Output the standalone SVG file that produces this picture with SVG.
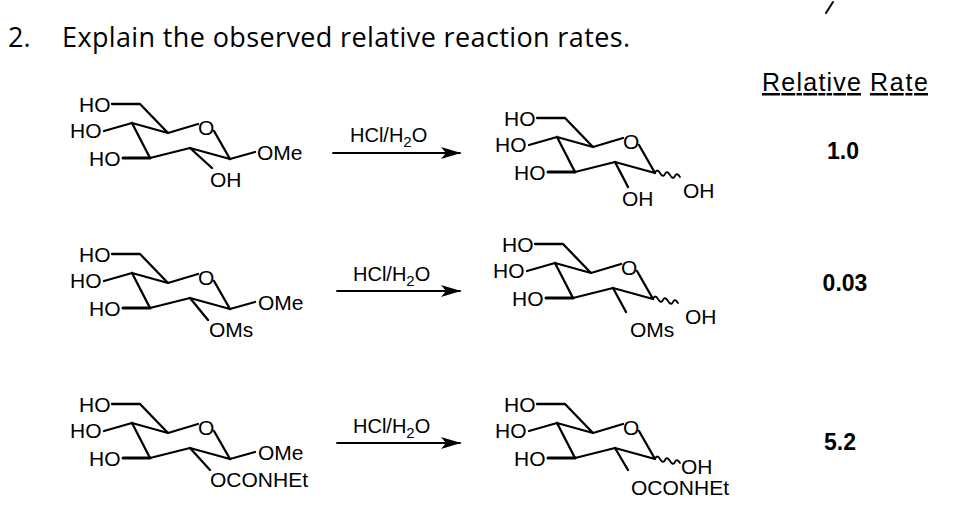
<svg xmlns="http://www.w3.org/2000/svg" xmlns:xlink="http://www.w3.org/1999/xlink" width="976" height="512" viewBox="0 0 976 512">
<style>
text{font-family:"Liberation Sans",Arial,sans-serif;fill:#000}
.b{stroke:#000;stroke-width:2.3;fill:none;stroke-linecap:round;stroke-linejoin:round}
.t{font-size:21px}
.r{font-size:20px}
.rate{font-size:23px;font-weight:bold}
</style>
<defs>
<marker id="ah" viewBox="0 0 20 12" refX="19" refY="6" markerWidth="20" markerHeight="12" markerUnits="userSpaceOnUse" orient="auto">
<path d="M0,0 L20,6 L0,12 L5,6 Z" fill="#000"/>
</marker>
<g id="ring">
<path class="b" d="M112,104 H140 L168,133 M132,123 L168,133 L198,124 M214,131 L230,159 M132,123 L150,158 L190,148 L230,159 M104,131 L132,123"/>
<path class="b" style="stroke-width:3" d="M123,158 H150"/>
<text class="t" x="79" y="112">HO</text>
<text class="t" x="70" y="138">HO</text>
<text class="t" x="89" y="166">HO</text>
<text class="t" x="198" y="135">O</text>
</g>
</defs>
<text x="8" y="47" style="font-size:27px;font-family:'Open Sans','Liberation Sans',sans-serif">2.</text>
<text x="62" y="47" textLength="568" style="font-size:27px;font-family:'Open Sans','Liberation Sans',sans-serif">Explain the observed relative reaction rates.</text>
<path class="b" d="M833,2 L826,13" style="stroke-width:2"/>
<g id="reactant1">
<use xlink:href="#ring" href="#ring"/>
<path class="b" d="M230,159 L255,152 M190,148 L212,168"/>
<text class="t" x="257" y="160">OMe</text>
<text class="t" x="210" y="187">OH</text>
</g>
<g id="reactant2" transform="translate(0,150)">
<use xlink:href="#ring" href="#ring"/>
<path class="b" d="M230,159 L255,152 M190,148 L208,170"/>
<text class="t" x="258" y="160">OMe</text>
<text class="t" x="209" y="187">OMs</text>
</g>
<g id="reactant3" transform="translate(0,300)">
<use xlink:href="#ring" href="#ring"/>
<path class="b" d="M190,148 L210,170 M230,159 L255,152"/>
<text class="t" x="258" y="160">OMe</text>
<text class="t" x="210" y="187">OCONHEt</text>
</g>
<g id="product1" transform="translate(425,14)">
<use xlink:href="#ring" href="#ring"/>
<path class="b" d="M190,148 L203,173"/>
<path class="b" style="stroke-width:1.8" d="M230,159 q2,-5 5,0 t5,1 t5,1 t5,1 t5,1"/>
<text class="t" x="197" y="192">OH</text>
<text class="t" x="258" y="184">OH</text>
</g>
<g id="product2" transform="translate(423,140)">
<use xlink:href="#ring" href="#ring"/>
<path class="b" d="M190,148 L203,172"/>
<path class="b" style="stroke-width:1.8" d="M230,159 q2,-5 5,0 t5,1 t5,1 t5,1 t5,1"/>
<text class="t" x="207" y="197">OMs</text>
<text class="t" x="262" y="184">OH</text>
</g>
<g id="product3" transform="translate(425,300)">
<use xlink:href="#ring" href="#ring"/>
<path class="b" d="M190,148 L203,170"/>
<path class="b" style="stroke-width:1.8" d="M230,159 q2,-5 5,0 t5,1 t5,1 t5,1 t5,1"/>
<text class="t" x="256" y="174">OH</text>
<text class="t" x="206" y="195">OCONHEt</text>
</g>
<g id="connectors">
<path class="b" style="stroke-width:1.8" d="M333,153 H460" marker-end="url(#ah)"/>
<path class="b" style="stroke-width:1.8" d="M337,291 H460" marker-end="url(#ah)"/>
<path class="b" style="stroke-width:1.8" d="M337,443 H460" marker-end="url(#ah)"/>
<text class="r" x="350" y="142">HCl/H<tspan dy="5" font-size="15">2</tspan><tspan dy="-5">O</tspan></text>
<text class="r" x="353" y="281">HCl/H<tspan dy="5" font-size="15">2</tspan><tspan dy="-5">O</tspan></text>
<text class="r" x="353" y="433">HCl/H<tspan dy="5" font-size="15">2</tspan><tspan dy="-5">O</tspan></text>
</g>
<g id="rates">
<text x="762" y="91" textLength="99" style="font-size:25px" text-decoration="underline">Relative</text>
<text x="870" y="91" textLength="58" style="font-size:25px" text-decoration="underline">Rate</text>
<text class="rate" x="843" y="159" text-anchor="middle">1.0</text>
<text class="rate" x="845" y="291" text-anchor="middle">0.03</text>
<text class="rate" x="840" y="450" text-anchor="middle">5.2</text>
</g>
</svg>
